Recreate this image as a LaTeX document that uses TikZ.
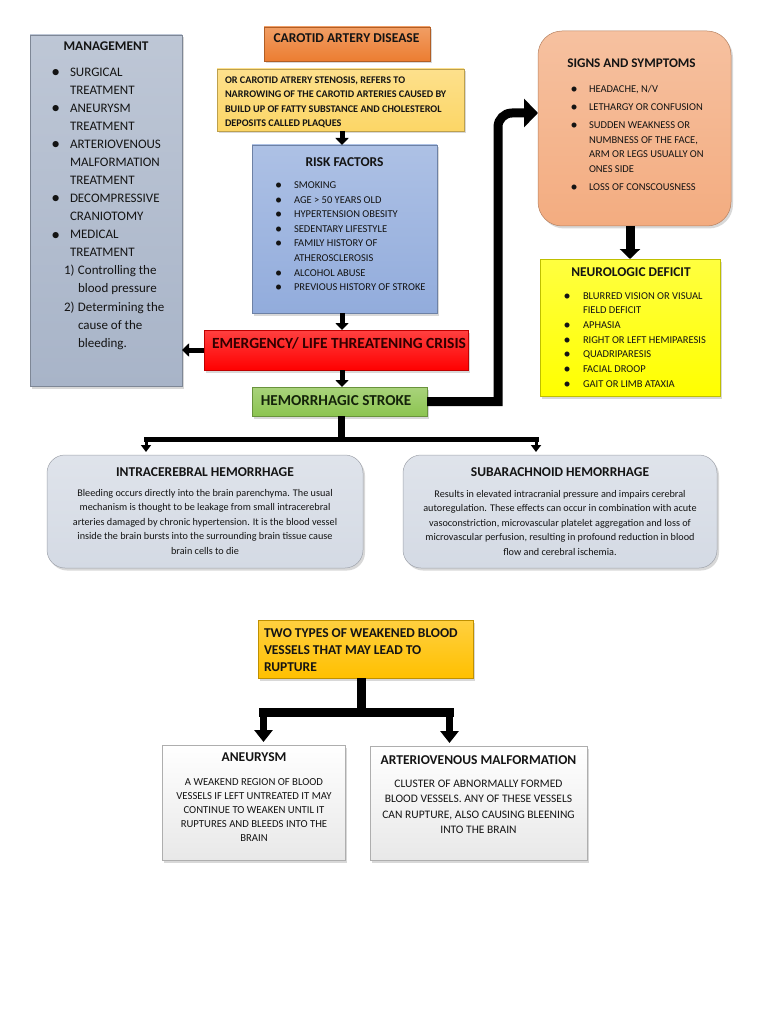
\documentclass[tikz,border=0pt]{standalone}
\usepackage{fontspec}
\setmainfont{Carlito}
\usetikzlibrary{arrows.meta,shadows,calc}
\definecolor{ink}{RGB}{20,20,20}
\definecolor{mgmtc}{RGB}{168,180,200}
\definecolor{carc}{RGB}{236,125,49}
\definecolor{defc}{RGB}{252,214,102}
\definecolor{riskc}{RGB}{146,172,220}
\definecolor{emgc}{RGB}{255,0,0}
\definecolor{hemc}{RGB}{140,196,80}
\definecolor{signc}{RGB}{243,172,128}
\definecolor{neuc}{RGB}{255,255,0}
\definecolor{hemoc}{RGB}{212,218,228}
\definecolor{twoc}{RGB}{255,192,0}
\definecolor{whc}{RGB}{232,232,232}
\newcommand\bul[1]{\llap{\raisebox{-0.1em}{\scalebox{1.35}{\textbullet}}\hspace{#1}}}
\newcommand\nitem[1]{\hspace*{-6pt}\makebox[14pt][l]{#1}}
\tikzset{
  box/.style={draw=#1!75!black, line width=0.5pt, top color=#1!75!white, bottom color=#1,
    inner sep=0pt, outer sep=0pt,
    drop shadow={shadow xshift=2pt,shadow yshift=-2.5pt,opacity=0.3}},
  tx/.style={inner sep=0pt, outer sep=0pt, text=ink},
  ttl/.style={tx, anchor=base, font=\bfseries\fontsize{13.5}{16}\selectfont},
  arrS/.style={line width=5pt, draw=black, -{Triangle[width=13pt,length=7pt]}},
}
\begin{document}
\begin{tikzpicture}[x=1pt,y=-1pt]
\useasboundingbox (0,0) rectangle (768,1024);
\fill[white] (0,0) rectangle (768,1024);

% ---------- boxes ----------
\node[box=mgmtc, minimum width=152pt, minimum height=351pt] (mgmt) at (106,210.5) {};
\node[box=carc, minimum width=166pt, minimum height=34pt] (car) at (347,44) {};
\node[box=defc, minimum width=247pt, minimum height=62pt] (def) at (340.5,100) {};
\node[box=riskc, minimum width=185pt, minimum height=168pt] (risk) at (344.5,229) {};
\node[box=emgc, minimum width=264pt, minimum height=40pt] (emg) at (336,350) {};
\node[box=hemc, minimum width=175pt, minimum height=29pt] (hem) at (339.5,401.5) {};
\node[box=signc, rounded corners=24pt, minimum width=193pt, minimum height=195pt] (signs) at (634.5,128.5) {};
\node[box=neuc, minimum width=180pt, minimum height=137pt] (neu) at (630,327.5) {};
\node[box=hemoc, rounded corners=18pt, minimum width=316pt, minimum height=113pt] (icm) at (205,511.5) {};
\node[box=hemoc, rounded corners=18pt, minimum width=314pt, minimum height=113pt] (sah) at (560,511.5) {};
\node[box=twoc, minimum width=215pt, minimum height=58pt] (two) at (365.5,649) {};
\node[box=whc, top color=white, minimum width=183pt, minimum height=115pt] (aneu) at (253.5,802.5) {};
\node[box=whc, top color=white, minimum width=217pt, minimum height=114pt] (avm) at (478.5,803) {};

% ---------- texts (multi-line nodes: base = last line) ----------
\node[ttl, font=\bfseries\fontsize{13.3}{16}\selectfont] (mgmtT) at (106,50.3) {MANAGEMENT};
\node[tx, anchor=base west, align=left, font=\fontsize{13}{18.07}\selectfont] (mgmtL) at (70,347.2)
 {\bul{9.8pt}SURGICAL\\TREATMENT\\\bul{9.8pt}ANEURYSM\\TREATMENT\\\bul{9.8pt}ARTERIOVENOUS\\MALFORMATION\\TREATMENT\\\bul{9.8pt}DECOMPRESSIVE\\CRANIOTOMY\\\bul{9.8pt}MEDICAL\\TREATMENT\\\nitem{1)}Controlling the\\\hspace*{8pt}blood pressure\\\nitem{2)}Determining the\\\hspace*{8pt}cause of the\\\hspace*{8pt}bleeding.};

\node[ttl] (carT) at (346.5,42.6) {CAROTID ARTERY DISEASE};
\node[tx, anchor=base west, align=left, font=\bfseries\fontsize{10.2}{14.5}\selectfont] (defT) at (225,126.8)
 {OR CAROTID ATRERY STENOSIS, REFERS TO\\NARROWING OF THE CAROTID ARTERIES CAUSED BY\\BUILD UP OF FATTY SUBSTANCE AND CHOLESTEROL\\DEPOSITS CALLED PLAQUES};

\node[ttl] (riskT) at (344.5,166.6) {RISK FACTORS};
\node[tx, anchor=base west, align=left, font=\fontsize{10.5}{14.6}\selectfont] (riskL) at (294,290.6)
 {\bul{11.9pt}SMOKING\\\bul{11.9pt}AGE > 50 YEARS OLD\\\bul{11.9pt}HYPERTENSION OBESITY\\\bul{11.9pt}SEDENTARY LIFESTYLE\\\bul{11.9pt}FAMILY HISTORY OF\\ATHEROSCLEROSIS\\\bul{11.9pt}ALCOHOL ABUSE\\\bul{11.9pt}PREVIOUS HISTORY OF STROKE};

\node[tx, anchor=base west, text={rgb,255:red,50;green,0;blue,0}, font=\bfseries\fontsize{15.5}{18}\selectfont] (emgT) at (212,348.3) {EMERGENCY/ LIFE THREATENING CRISIS};
\node[tx, anchor=base, text={rgb,255:red,20;green,35;blue,10}, font=\bfseries\fontsize{15.2}{18}\selectfont] (hemT) at (336,405.9) {HEMORRHAGIC STROKE};

\node[ttl, font=\bfseries\fontsize{13.2}{16}\selectfont] (signsT) at (631.5,67.5) {SIGNS AND SYMPTOMS};
\node[tx, anchor=base west, align=left, font=\fontsize{10.5}{14.5}\selectfont] (signsL) at (589,190.4)
 {\bul{11.4pt}HEADACHE, N/V\\[3.5pt]\bul{11.4pt}LETHARGY OR CONFUSION\\[3.5pt]\bul{11.4pt}SUDDEN WEAKNESS OR\\NUMBNESS OF THE FACE,\\ARM OR LEGS USUALLY ON\\ONES SIDE\\[3.5pt]\bul{11.4pt}LOSS OF CONSCOUSNESS};

\node[ttl, font=\bfseries\fontsize{13.4}{16}\selectfont] (neuT) at (631,276.6) {NEUROLOGIC DEFICIT};
\node[tx, anchor=base west, align=left, font=\fontsize{10.5}{14.7}\selectfont] (neuL) at (583,387.3)
 {\bul{12.4pt}BLURRED VISION OR VISUAL\\FIELD DEFICIT\\\bul{12.4pt}APHASIA\\\bul{12.4pt}RIGHT OR LEFT HEMIPARESIS\\\bul{12.4pt}QUADRIPARESIS\\\bul{12.4pt}FACIAL DROOP\\\bul{12.4pt}GAIT OR LIMB ATAXIA};

\node[ttl] (icmT) at (205,476) {INTRACEREBRAL HEMORRHAGE};
\node[tx, anchor=base, align=center, font=\fontsize{10.2}{14.5}\selectfont] (icmB) at (205,554.4)
 {Bleeding occurs directly into the brain parenchyma. The usual\\mechanism is thought to be leakage from small intracerebral\\arteries damaged by chronic hypertension. It is the blood vessel\\inside the brain bursts into the surrounding brain tissue cause\\brain cells to die};

\node[ttl] (sahT) at (560,476.4) {SUBARACHNOID HEMORRHAGE};
\node[tx, anchor=base, align=center, font=\fontsize{10.2}{14.5}\selectfont] (sahB) at (560,555.3)
 {Results in elevated intracranial pressure and impairs cerebral\\autoregulation. These effects can occur in combination with acute\\vasoconstriction, microvascular platelet aggregation and loss of\\microvascular perfusion, resulting in profound reduction in blood\\flow and cerebral ischemia.};

\node[tx, anchor=base west, align=left, font=\bfseries\fontsize{13.5}{17.3}\selectfont] (twoT) at (264,671.6)
 {TWO TYPES OF WEAKENED BLOOD\\VESSELS THAT MAY LEAD TO\\RUPTURE};

\node[ttl] (aneuT) at (254,761) {ANEURYSM};
\node[tx, anchor=base, align=center, font=\fontsize{10.7}{14.2}\selectfont] (aneuB) at (254,841.9)
 {A WEAKEND REGION OF BLOOD\\VESSELS IF LEFT UNTREATED IT MAY\\CONTINUE TO WEAKEN UNTIL IT\\RUPTURES AND BLEEDS INTO THE\\BRAIN};

\node[ttl] (avmT) at (478.5,764.4) {ARTERIOVENOUS MALFORMATION};
\node[tx, anchor=base, align=center, font=\fontsize{11.5}{15.5}\selectfont] (avmB) at (478.5,833.5)
 {CLUSTER OF ABNORMALLY FORMED\\BLOOD VESSELS. ANY OF THESE VESSELS\\CAN RUPTURE, ALSO CAUSING BLEENING\\INTO THE BRAIN};

% ---------- connectors ----------
\coordinate (spine) at (342,0);
\draw[arrS] (def.south -| spine) -- (risk.north -| spine);
\draw[arrS] (risk.south -| spine) -- (emg.north -| spine);
\draw[arrS] (emg.south -| spine) -- (hem.north -| spine);
\draw[arrS] (emg.west) -- (emg.west -| mgmt.east);

\coordinate (bend) at (498,113);
\draw[line width=9pt, -{Triangle[width=28pt,length=14pt]}]
  (hem.east) -- (hem.east -| bend) [rounded corners=14pt] -- (bend) -- (signs.west |- bend);

\draw[line width=9pt, -{Triangle[width=20pt,length=10pt]}] (signs.south -| neu.north) -- (neu.north);

\coordinate (br) at (341,439.5);
\coordinate (brL) at (146,439.5);
\coordinate (brR) at (536,439.5);
\draw[line width=7pt] (hem.south -| br) -- (br);
\draw[line width=5pt, line cap=rect] (brL) -- (brR);
\draw[line width=3pt, -{Triangle[width=10pt,length=7pt]}] (brL) -- ([yshift=3pt]icm.north -| brL);
\draw[line width=3pt, -{Triangle[width=10pt,length=7pt]}] (brR) -- ([yshift=3pt]sah.north -| brR);

\coordinate (sp2) at (361.5,712);
\coordinate (lL) at (263.5,712);
\coordinate (lR) at (449.5,712);
\draw[line width=9pt] (two.south -| sp2) -- (sp2);
\draw[line width=9pt, line cap=rect] (lL) -- (lR);
\draw[line width=7pt, -{Triangle[width=18pt,length=12pt]}] (lL) -- ([yshift=3pt]aneu.north -| lL);
\draw[line width=7pt, -{Triangle[width=18pt,length=12pt]}] (lR) -- ([yshift=3pt]avm.north -| lR);
\end{tikzpicture}
\end{document}
